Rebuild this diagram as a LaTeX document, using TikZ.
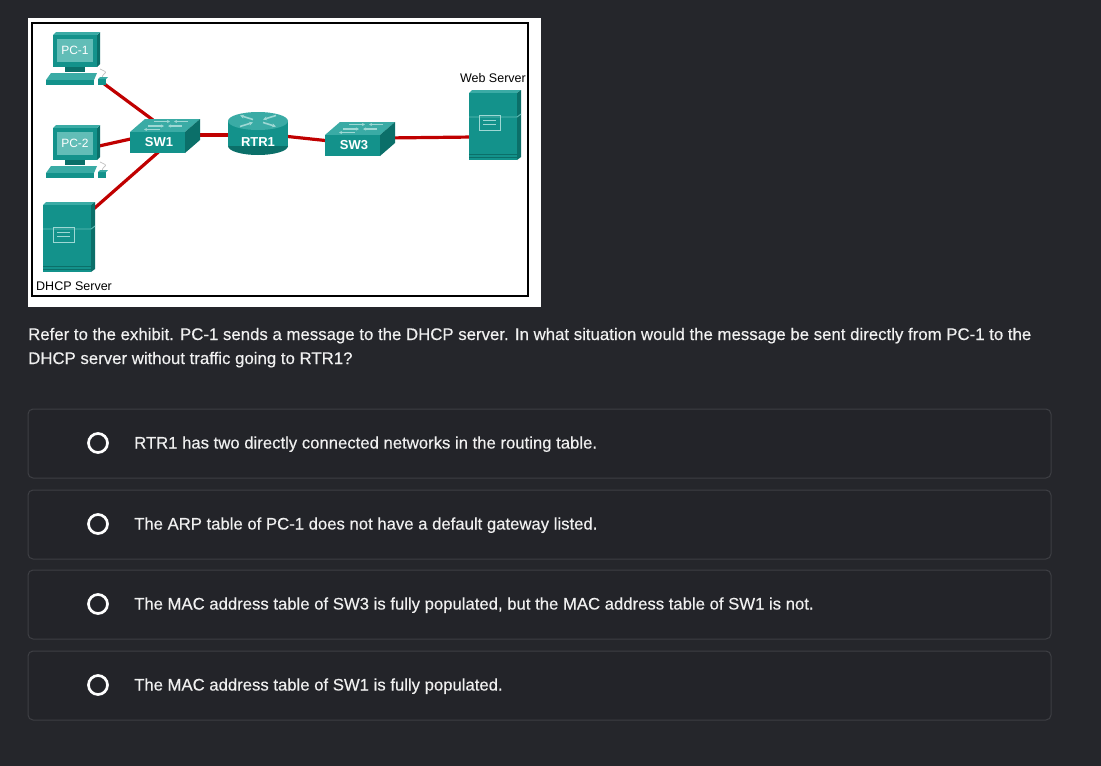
\documentclass[tikz,border=0pt]{standalone}
\usepackage{fontspec}
\setmainfont{Liberation Sans}
\newfontfamily\qfont[FakeBold=0.35]{Liberation Sans}
\usetikzlibrary{arrows.meta}
\pgfdeclarelayer{back}
\pgfsetlayers{back,main}
\definecolor{bg}{HTML}{25262B}
\definecolor{boxfill}{HTML}{232429}
\definecolor{boxline}{HTML}{3E3F44}
\definecolor{qcol}{HTML}{F0F0F0}
\definecolor{tealfront}{HTML}{13928B}
\definecolor{tealtop}{HTML}{3AABA5}
\definecolor{tealside}{HTML}{0B6F69}
\definecolor{tealscreen}{HTML}{62BDB7}
\definecolor{tealline}{HTML}{9ED8D4}
\definecolor{linkred}{HTML}{C00000}
\tikzset{
  link/.style={linkred, line width=3.2pt},
  devlabel/.style={text=white, font=\bfseries\fontsize{13}{14}\selectfont, inner sep=0pt},
  pclabel/.style={text=white, font=\fontsize{12}{13}\selectfont, inner sep=0pt},
  caption/.style={text=black, font=\fontsize{12.5}{14}\selectfont, inner sep=0pt},
  qtext/.style={text=qcol, font=\qfont\fontsize{16.8}{19}\selectfont, inner sep=0pt},
  opttext/.style={text=qcol, font=\qfont\fontsize{16.7}{19}\selectfont, inner sep=0pt},
  optbox/.style={draw=boxline, fill=boxfill, line width=1pt, rounded corners=5pt, minimum width=1023pt, minimum height=69pt, inner sep=0pt},
  radio/.style={circle, draw=white, line width=2.7pt, minimum size=19pt, inner sep=0pt},
  swarr/.style={tealline, line width=1.1pt, -{Stealth[length=3pt,width=3pt]}},
  rarr/.style={tealline, line width=1.6pt, -{Stealth[length=4pt,width=4pt]}},
  srvline/.style={tealline, line width=0.9pt},
  pc/.pic={
    \fill[tealside] (44,2) -- (47,-1) -- (47,31) -- (44,34) -- cycle;
    \fill[tealtop] (0,2) -- (3,-1) -- (47,-1) -- (44,2) -- cycle;
    \fill[tealfront] (0,2) rectangle (44,34);
    \fill[tealscreen] (4,6) rectangle (40,29);
    \node[pclabel] at (22,17.5) {#1};
    \fill[tealside] (12,34) rectangle (32,39);
    \fill[tealtop] (-2,40) -- (44,40) -- (41,47) -- (-7,47) -- cycle;
    \fill[tealfront] (-7,47) rectangle (41,52);
    \draw[gray!50, line width=0.7pt] (49,45) .. controls (50,38) and (58,41) .. (47,36);
    \fill[tealfront] (45,46) rectangle (53,52);
    \fill[tealtop] (45,46) -- (47,44) -- (55,44) -- (53,46) -- cycle;
    \coordinate (-mouse) at (50,50);
    \coordinate (-nic) at (46,20);
  },
  switch/.pic={
    \fill[tealtop] (0,0) -- (15,-13) -- (70,-13) -- (55,0) -- cycle;
    \fill[tealside] (55,0) -- (70,-13) -- (70,8) -- (55,21) -- cycle;
    \fill[tealfront] (0,0) rectangle (55,21);
    \draw[swarr] (24,-10.5) -- (40,-10.5);
    \draw[swarr] (58,-10.5) -- (44,-10.5);
    \draw[swarr] (18,-6) -- (34,-6);
    \draw[swarr] (52,-6) -- (38,-6);
    \draw[swarr] (30,-2.5) -- (14,-2.5);
    \node[devlabel] at (29,10) {#1};
    \coordinate (-n) at (23,-12);
    \coordinate (-w) at (5,6);
    \coordinate (-s) at (33,16);
    \coordinate (-e) at (60,3);
  },
  router/.pic={
    \fill[tealside] (0,25) ellipse [x radius=30, y radius=9];
    \fill[tealfront] (-30,0) rectangle (30,25);
    \fill[tealtop] (0,0) ellipse [x radius=30, y radius=9];
    \draw[rarr] (-5,-1.5) -- (-18,-5.5);
    \draw[rarr] (5,1.5) -- (18,5.5);
    \draw[rarr] (18,-5.5) -- (5,-1.5);
    \draw[rarr] (-18,5.5) -- (-5,1.5);
    \node[devlabel] at (0,21) {#1};
    \coordinate (-w) at (-25,14);
    \coordinate (-e) at (25,15);
  },
  server/.pic={
    \fill[tealtop] (0,3) -- (3,0) -- (52,0) -- (48,3) -- cycle;
    \fill[tealside] (48,3) -- (52,0) -- (52,67) -- (48,70) -- cycle;
    \fill[tealfront] (0,3) rectangle (48,70);
    \draw[srvline, tealscreen] (0,27) -- (48,27) -- (52,24);
    \draw[srvline] (10,25) rectangle (31,40);
    \draw[srvline] (14,30.5) -- (27,30.5) (14,34.5) -- (27,34.5);
    \draw[tealside, line width=0.8pt] (0,64) -- (48,64) (0,67) -- (48,67);
    \coordinate (-e) at (46,11);
    \coordinate (-w) at (5,47);
  }
}
\begin{document}
\begin{tikzpicture}[x=1pt,y=-1pt]
\useasboundingbox (0,0) rectangle (1101,766);
\begin{pgfonlayer}{back}
  \fill[bg] (0,0) rectangle (1101,766);
  \fill[white] (28,18) rectangle (541,307);
  \draw[black, line width=2pt] (32,23) rectangle (528,296);
\end{pgfonlayer}

% devices
\pic (pc1) at (53,33) {pc={PC-1}};
\pic (pc2) at (53,126) {pc={PC-2}};
\pic (sw1) at (130,132) {switch={SW1}};
\pic (rtr1) at (258,121) {router={RTR1}};
\pic (sw3) at (325,135) {switch={SW3}};
\pic (web) at (469,90) {server};
\pic (dhcp) at (43,202) {server};
\node[caption, anchor=east] (weblbl) at (526,78) {Web Server};
\node[caption, anchor=west] (dhcplbl) at (36,286) {DHCP Server};

% links
\begin{pgfonlayer}{back}
  \draw[link] (pc1-mouse) -- (sw1-n);
  \draw[link] (pc2-nic) -- (sw1-w);
  \draw[link] (dhcp-e) -- (sw1-s);
  \draw[link] (sw1-e) -- (rtr1-w);
  \draw[link] (rtr1-e) -- (sw3-w);
  \draw[link] (sw3-e) -- (web-w);
\end{pgfonlayer}

% question
\node[qtext, anchor=base west] (q1) at (28,340) {Refer to the exhibit. PC-1 sends a message to the DHCP server. In what situation would the message be sent directly from PC-1 to the};
\node[qtext, anchor=base west] (q2) at (28,364) {DHCP server without traffic going to RTR1?};

% options
\node[optbox] (box1) at (539.5,443.5) {};
\node[optbox] (box2) at (539.5,524.5) {};
\node[optbox] (box3) at (539.5,604.5) {};
\node[optbox] (box4) at (539.5,685.5) {};
\node[radio] (r1) at (98,443) {};
\node[radio] (r2) at (98,524) {};
\node[radio] (r3) at (98,604) {};
\node[radio] (r4) at (98,685) {};
\node[opttext, anchor=base west] (o1) at (134,448.5) {RTR1 has two directly connected networks in the routing table.};
\node[opttext, anchor=base west] (o2) at (134,529.5) {The ARP table of PC-1 does not have a default gateway listed.};
\node[opttext, anchor=base west] (o3) at (134,609.5) {The MAC address table of SW3 is fully populated, but the MAC address table of SW1 is not.};
\node[opttext, anchor=base west] (o4) at (134,690.5) {The MAC address table of SW1 is fully populated.};
\end{tikzpicture}
\end{document}
